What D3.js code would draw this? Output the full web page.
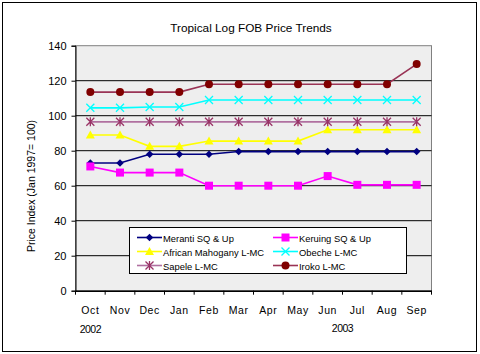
<!DOCTYPE html>
<html><head><meta charset="utf-8">
<script src="https://cdn.jsdelivr.net/npm/d3@7"></script>
<style>body{margin:0;background:#fff}svg{display:block}text{font-family:"Liberation Sans",Arial,sans-serif}</style>
</head><body><svg id="c" width="480" height="354"></svg>
<script>
const months = ["Oct","Nov","Dec","Jan","Feb","Mar","Apr","May","Jun","Jul","Aug","Sep"];
const yTicks = [0,20,40,60,80,100,120,140];
const meranti  = [73,73,78,78,78,79.5,79.5,79.5,79.5,79.5,79.5,79.5];
const keruing  = [71,67.5,67.5,67.5,60,60,60,60,65.5,60.5,60.5,60.5];
const mahogany = [89,89,82.5,82.5,85.5,85.5,85.5,85.5,92,92,92,92];
const obeche   = [104.5,104.5,105,105,109,109,109,109,109,109,109,109];
const sapele   = [96.5,96.5,96.5,96.5,96.5,96.5,96.5,96.5,96.5,96.5,96.5,96.5];
const iroko    = [113.5,113.5,113.5,113.5,118,118,118,118,118,118,118,129.5];
const seriesNames = ["Meranti SQ & Up","Keruing SQ & Up","African Mahogany L-MC","Obeche L-MC","Sapele L-MC","Iroko L-MC"];

const series = [
 {name:seriesNames[0], values:meranti,  color:"#000080", line:"#000080", marker:"diamond"},
 {name:seriesNames[1], values:keruing,  color:"#FF00FF", line:"#FF00FF", marker:"square"},
 {name:seriesNames[2], values:mahogany, color:"#FFFF00", line:"#FFFF00", marker:"triangle"},
 {name:seriesNames[3], values:obeche,   color:"#00FFFF", line:"#00FFFF", marker:"x"},
 {name:seriesNames[4], values:sapele,   color:"#993366", line:"#B070A0", marker:"star"},
 {name:seriesNames[5], values:iroko,    color:"#800000", line:"#993355", marker:"circle"}
];

const svg = d3.select("#c");
svg.append("rect").attr("x",2.5).attr("y",2.5).attr("width",474).attr("height",349).attr("fill","#fff").attr("stroke","#000");

const L=75.5, R=431.5, T=45.7, B=290.7;
const x = d3.scalePoint().domain(months).range([L,R]).padding(0.5);
const xb = d3.scaleBand().domain(months).range([L,R]);
const y = d3.scaleLinear().domain([0,140]).range([B,T]);

svg.append("rect").attr("x",L).attr("y",T).attr("width",R-L).attr("height",B-T).attr("fill","#EEEEEE").attr("stroke","#808080");

// gridlines
svg.append("g").selectAll("line").data(yTicks.filter(d=>d>0&&d<140)).join("line")
  .attr("x1",L).attr("x2",R).attr("y1",d=>y(d)).attr("y2",d=>y(d)).attr("stroke","#000").attr("stroke-width",1);

// y axis
const ya = svg.append("g").attr("transform",`translate(${L},0)`)
  .call(d3.axisLeft(y).tickValues(yTicks).tickSize(4).tickPadding(5));
ya.select(".domain").attr("stroke","#000");
ya.selectAll("text").attr("font-size",11).attr("fill","#000");

// x axis
const xa = svg.append("g").attr("transform",`translate(0,${B})`)
  .call(d3.axisBottom(xb).tickSize(0).tickPadding(16));
xa.select(".domain").attr("stroke","#000").attr("stroke-width",1.5);
xa.selectAll("text").attr("font-size",10.5).attr("fill","#000").attr("letter-spacing","0.6px");
svg.append("g").selectAll("line").data(months.concat(["end"])).join("line")
  .attr("x1",(d,i)=>L+i*xb.step()).attr("x2",(d,i)=>L+i*xb.step())
  .attr("y1",B).attr("y2",B+4).attr("stroke","#000");

svg.append("text").attr("x",x("Oct")).attr("y",333).attr("text-anchor","middle").attr("font-size",10.5).attr("letter-spacing","-0.5px").text("2002");
svg.append("text").attr("x",(x("Jun")+x("Jul"))/2).attr("y",332).attr("text-anchor","middle").attr("font-size",10.5).attr("letter-spacing","-0.5px").text("2003");

svg.append("text").attr("x",251).attr("y",32).attr("text-anchor","middle").attr("font-size",11.8).text("Tropical Log FOB Price Trends");
svg.append("text").attr("transform","translate(35,186) rotate(-90)").attr("text-anchor","middle").attr("font-size",10.5).text("Price Index (Jan 1997= 100)");

function drawMarker(g, type, color){
  if(type==="diamond") g.append("path").attr("d",d3.symbol(d3.symbolDiamond2,36)()).attr("fill",color);
  else if(type==="square") g.append("rect").attr("x",-4).attr("y",-4).attr("width",8).attr("height",8).attr("fill",color);
  else if(type==="triangle") g.append("path").attr("d","M0,-4.5L4.5,3.5L-4.5,3.5Z").attr("fill",color);
  else if(type==="circle") g.append("circle").attr("r",4).attr("fill",color);
  else if(type==="x") g.append("path").attr("d","M-4,-4L4,4M-4,4L4,-4").attr("stroke",color).attr("stroke-width",1.3);
  else if(type==="star") g.append("path").attr("d","M-4,-4L4,4M-4,4L4,-4M0,-4.5L0,4.5").attr("stroke",color).attr("stroke-width",1.3);
}

const line = d3.line().x((d,i)=>x(months[i])).y(d=>y(d));
series.forEach(s=>{
  svg.append("path").datum(s.values).attr("d",line).attr("fill","none").attr("stroke",s.line).attr("stroke-width",1.6);
  s.values.forEach((v,i)=>{
    const g = svg.append("g").attr("transform",`translate(${x(months[i])},${y(v)})`);
    drawMarker(g,s.marker,s.color);
  });
});

// legend
const lg = svg.append("g");
lg.append("rect").attr("x",129.5).attr("y",227.5).attr("width",277).attr("height",46).attr("fill","#fff").attr("stroke","#000");
series.forEach((s,i)=>{
  const col=i%2, row=Math.floor(i/2);
  const lx = col===0?137:273, ly = 237.5+row*14;
  lg.append("line").attr("x1",lx).attr("x2",lx+25).attr("y1",ly).attr("y2",ly).attr("stroke",s.line).attr("stroke-width",1.6);
  const g = lg.append("g").attr("transform",`translate(${lx+12.5},${ly})`);
  drawMarker(g,s.marker,s.color);
  lg.append("text").attr("x",lx+26).attr("y",ly+4).attr("font-size",9.4).text(s.name);
});
</script></body></html>
